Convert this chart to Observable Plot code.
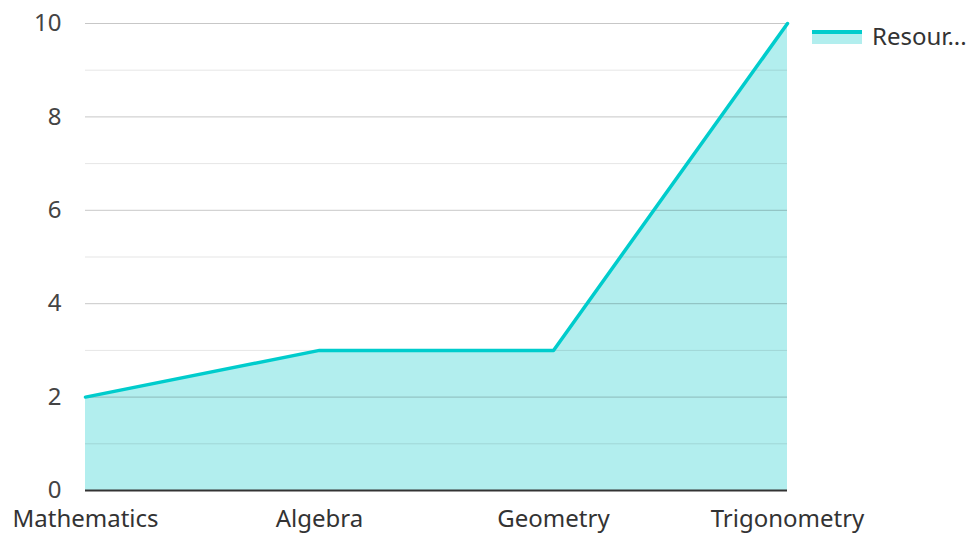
<!DOCTYPE html>
<html>
<head>
<meta charset="utf-8">
<script src="https://cdn.jsdelivr.net/npm/d3@7"></script>
<script src="https://cdn.jsdelivr.net/npm/@observablehq/plot@0.6"></script>
<style>
  body { margin: 0; background: #fff; font-family: "Noto Sans", sans-serif; }
  #wrap { position: relative; width: 971px; height: 533px; }
  #legend { position: absolute; left: 812px; top: 19px; display: flex; align-items: center; font-size: 24px; color: #333; }
  #legend .sw { position: relative; width: 50px; height: 14px; margin-right: 10px; }
  #legend .sw .a { position: absolute; left: 0; top: 3px; width: 50px; height: 12px; background: #b2eeee; }
  #legend .sw .l { position: absolute; left: 0; top: 1px; width: 50px; height: 4px; background: #00cccc; }
</style>
</head>
<body>
<div id="wrap"><div id="chart"></div>
<div id="legend"><div class="sw"><div class="a"></div><div class="l"></div></div><span>Resour...</span></div>
</div>
<script>
const categories = ["Mathematics", "Algebra", "Geometry", "Trigonometry"];
const resources = [2, 3, 3, 10];
const seriesName = "Resources";
const majorTicks = [0, 2, 4, 6, 8, 10];
const minorTicks = [1, 3, 5, 7, 9];

const data = categories.map((c, i) => ({ category: c, value: resources[i], series: seriesName }));

const chart = Plot.plot({
  width: 971,
  height: 533,
  marginLeft: 85,
  marginRight: 184,
  marginTop: 23,
  marginBottom: 43,
  style: { fontFamily: "Noto Sans, sans-serif", fontSize: "24px", color: "#333", background: "#fff", overflow: "visible" },
  x: { type: "point", domain: categories, padding: 0, label: null },
  y: { domain: [0, 10], label: null },
  marks: [
    Plot.areaY(data, { x: "category", y: "value", fill: "#b2eeee" }),
    Plot.gridY(minorTicks, { stroke: "#000", strokeOpacity: 0.1, strokeWidth: 1 }),
    Plot.gridY(majorTicks.filter(d => d > 0), { stroke: "#000", strokeOpacity: 0.22, strokeWidth: 1 }),
    Plot.lineY(data, { x: "category", y: "value", stroke: "#00cccc", strokeWidth: 3.5 }),
    Plot.ruleY([0], { stroke: "#333", strokeWidth: 2 }),
    Plot.axisY({ ticks: majorTicks, tickSize: 0, tickPadding: 24, fontSize: 24, fill: "#444" }),
    Plot.axisX({ tickSize: 0, tickPadding: 19, fontSize: 24, fill: "#333" })
  ]
});
document.getElementById("chart").appendChild(chart);
</script>
</body>
</html>
